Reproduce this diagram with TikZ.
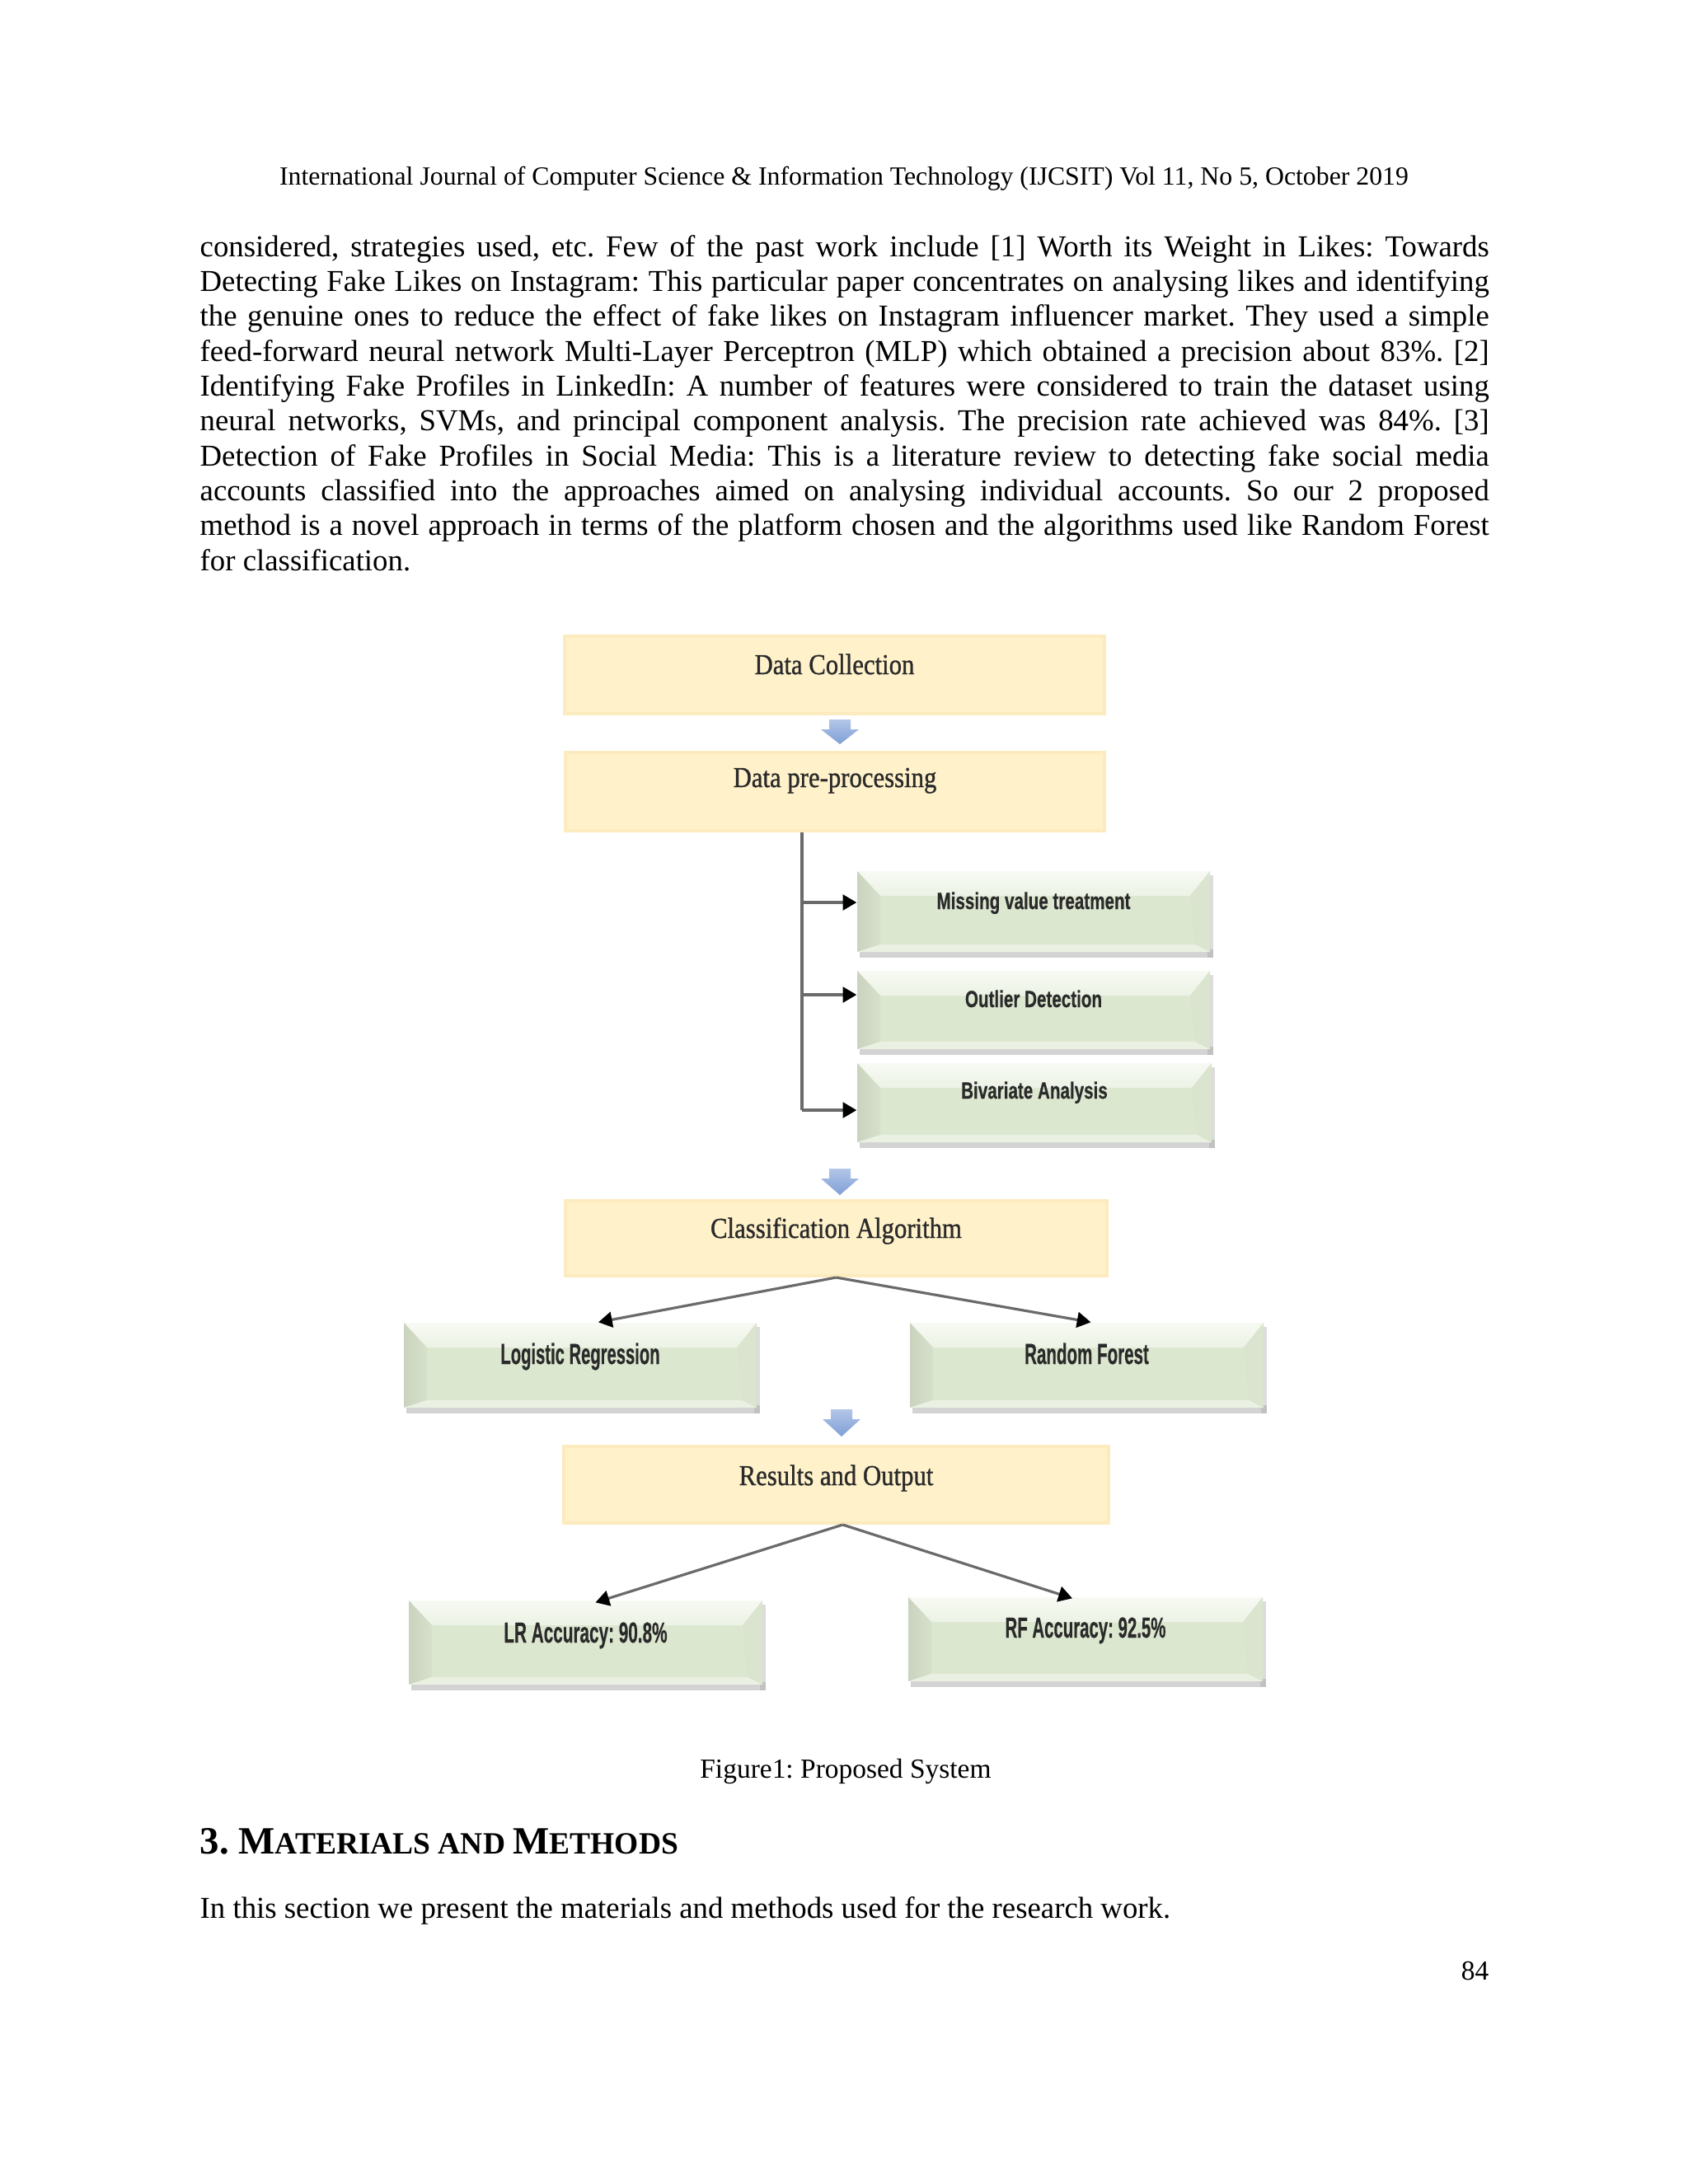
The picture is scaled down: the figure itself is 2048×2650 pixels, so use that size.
\documentclass[tikz,border=0pt]{standalone}
\usepackage{fontspec}
\setmainfont{Liberation Serif}
\newfontfamily\gsans{Liberation Sans}[FakeBold=0.6]
\newfontfamily\yserif{Liberation Serif}[FakeBold=1.0]
\usetikzlibrary{arrows.meta,fit,calc}
\frenchspacing
\definecolor{ylfill}{HTML}{FFF1CA}
\definecolor{yledge}{HTML}{FBEBBE}
\definecolor{gface}{HTML}{DCE7D0}
\definecolor{gtop}{HTML}{F7FAF3}
\definecolor{gleft}{HTML}{C9D3BE}
\definecolor{gright}{HTML}{DAE4CF}
\definecolor{gbot}{HTML}{EAF1E3}
\definecolor{gshadow}{HTML}{A8A8A8}
\definecolor{blarrow}{HTML}{7F9FD6}
\definecolor{bllight}{HTML}{B3C6E8}
\definecolor{linkc}{HTML}{6A6A6A}
\definecolor{txtc}{HTML}{2A2A2A}
\tikzset{
  ybox/.style={fill=ylfill, draw=yledge, line width=1.2pt, inner sep=0pt},
  gbox/.style={fill=gface, inner sep=0pt},
  ytext/.style={anchor=base, inner sep=0pt, text=txtc, font=\yserif\fontsize{10.5}{12}\selectfont},
  gtext/.style={anchor=base, inner sep=0pt, text=txtc, font=\gsans\bfseries\fontsize{8.5}{10}\selectfont},
  gtextl/.style={anchor=base, inner sep=0pt, text=txtc, font=\gsans\bfseries\fontsize{10.5}{12}\selectfont},
  link/.style={draw=linkc, line width=0.95pt},
  arr/.style={link, -{Triangle[length=5pt,width=5.6pt,color=black]}},
  ptext/.style={anchor=base west, inner sep=0pt, font=\fontsize{11}{12.65}\selectfont},
}
% bevelled green box: name, x1, y1, x2, y2
\newcommand\bevbox[5]{%
  \fill[gshadow, opacity=0.5] (#2+3,#5-3) rectangle (#4+4,#5+7);
  \fill[gshadow, opacity=0.4] (#4-3,#3+5) rectangle (#4+4,#5+7);
  \node[gbox, fit={(#2,#3) (#4,#5)}] (#1) {};
  \shade[top color=gtop, bottom color=gface!40!gtop] (#2,#3) -- (#4,#3) -- (#4-24,#3+30) -- (#2+28,#3+30) -- cycle;
  \shade[left color=gleft, right color=gface!70!gleft] (#2,#3) -- (#2+28,#3+30) -- (#2+28,#5-9) -- (#2,#5) -- cycle;
  \fill[gright] (#4,#3) -- (#4,#5) -- (#4-18,#5-9) -- (#4-24,#3+30) -- cycle;
  \fill[gbot] (#2,#5) -- (#4,#5) -- (#4-18,#5-9) -- (#2+28,#5-9) -- cycle;
}
% blue block arrow: name, cx, ytop, ybot
\newcommand\blarr[4]{%
  \coordinate (#1) at (#2,#3);
  \shade[top color=bllight, bottom color=blarrow]
    (#2-13,#3) -- (#2+13,#3) -- (#2+13,#3+12) -- (#2+23,#3+12) -- (#2,#4)
    -- (#2-23,#3+12) -- (#2-13,#3+12) -- cycle;
}
\begin{document}
\begin{tikzpicture}[x=0.29883pt, y=-0.29883pt]
\useasboundingbox[fill=white] (0,0) rectangle (2048,2650);

% header
\node[anchor=base, inner sep=0pt, font=\fontsize{9.5}{11}\selectfont] (hdr) at (1024,224)
  {International Journal of Computer Science \& Information Technology (IJCSIT) Vol 11, No 5, October 2019};

% paragraph
\node[ptext] (p1) at (242,311.0) {\makebox[467.4pt][s]{considered, strategies used, etc. Few of the past work include [1] Worth its Weight in Likes: Towards}};
\node[ptext] (p2) at (242,353.3) {\makebox[467.4pt][s]{Detecting Fake Likes on Instagram: This particular paper concentrates on analysing likes and identifying}};
\node[ptext] (p3) at (242,395.7) {\makebox[467.4pt][s]{the genuine ones to reduce the effect of fake likes on Instagram influencer market. They used a simple}};
\node[ptext] (p4) at (242,438.0) {\makebox[467.4pt][s]{feed-forward neural network Multi-Layer Perceptron (MLP) which obtained a precision about 83\%. [2]}};
\node[ptext] (p5) at (242,480.3) {\makebox[467.4pt][s]{Identifying Fake Profiles in LinkedIn: A number of features were considered to train the dataset using}};
\node[ptext] (p6) at (242,522.7) {\makebox[467.4pt][s]{neural networks, SVMs, and principal component analysis. The precision rate achieved was 84\%. [3]}};
\node[ptext] (p7) at (242,565.0) {\makebox[467.4pt][s]{Detection of Fake Profiles in Social Media: This is a literature review to detecting fake social media}};
\node[ptext] (p8) at (242,607.3) {\makebox[467.4pt][s]{accounts classified into the approaches aimed on analysing individual accounts. So our 2 proposed}};
\node[ptext] (p9) at (242,649.7) {\makebox[467.4pt][s]{method is a novel approach in terms of the platform chosen and the algorithms used like Random Forest}};
\node[ptext] (p10) at (242,692.0) {for classification.};

% yellow boxes
\node[ybox, fit={(685,772) (1340,866)}] (dc) {};
\node[ybox, fit={(686,913) (1340,1008)}] (dp) {};
\node[ybox, fit={(686,1457) (1343,1548)}] (ca) {};
\node[ybox, fit={(684,1755) (1345,1848)}] (ro) {};
\node[ytext] (dcT) at ($(dc.center |- 0,818)$) {\scalebox{0.875}[1]{Data Collection}};
\node[ytext] (dpT) at ($(dp.center |- 0,955)$) {\scalebox{0.875}[1]{Data pre-processing}};
\node[ytext] (caT) at ($(ca.center |- 0,1502)$) {\scalebox{0.875}[1]{Classification Algorithm}};
\node[ytext] (roT) at ($(ro.center |- 0,1802)$) {\scalebox{0.875}[1]{Results and Output}};

% blue block arrows
\blarr{b1}{1019}{873}{903}
\blarr{b2}{1019}{1418}{1450}
\blarr{b3}{1021}{1710}{1743}

% green bevel boxes
\bevbox{mv}{1040}{1057}{1468}{1155}
\bevbox{od}{1040}{1178}{1468}{1273}
\bevbox{ba}{1040}{1290}{1470}{1386}
\bevbox{lr}{490}{1605}{918}{1708}
\bevbox{rf}{1104}{1605}{1533}{1708}
\bevbox{lra}{496}{1942}{925}{2044}
\bevbox{rfa}{1102}{1938}{1532}{2040}

\node[gtext] (mvT) at ($(mv.center |- 0,1103)$) {\scalebox{0.725}[1]{Missing value treatment}};
\node[gtext] (odT) at ($(od.center |- 0,1222)$) {\scalebox{0.725}[1]{Outlier Detection}};
\node[gtext] (baT) at ($(ba.center |- 0,1333)$) {\scalebox{0.725}[1]{Bivariate Analysis}};
\node[gtextl] (lrT) at ($(lr.center |- 0,1655)$) {\scalebox{0.575}[1]{Logistic Regression}};
\node[gtextl] (rfT) at ($(rf.center |- 0,1655)$) {\scalebox{0.585}[1]{Random Forest}};
\node[gtextl] (lraT) at ($(lra.center |- 0,1993)$) {\scalebox{0.59}[1]{LR Accuracy: 90.8\%}};
\node[gtextl] (rfaT) at ($(rfa.center |- 0,1987)$) {\scalebox{0.58}[1]{RF Accuracy: 92.5\%}};

% connectors
\coordinate (j1) at (973,1095);
\coordinate (j2) at (973,1207);
\coordinate (j3) at (973,1347);
\draw[link] (dp.south -| j3) -- (j3);
\draw[arr] (j1) -- (j1 -| mv.west);
\draw[arr] (j2) -- (j2 -| od.west);
\draw[arr] (j3) -- (j3 -| ba.west);
\draw[arr] (ca.south) -- ($(lr.north)+(22,0)$);
\draw[arr] (ca.south) -- ($(rf.north)+(5,0)$);
\draw[arr] ($(ro.south)+(8,0)$) -- ($(lra.north)+(12,3)$);
\draw[arr] ($(ro.south)+(8,0)$) -- ($(rfa.north)+(-16,2)$);

% caption and following text
\node[anchor=base, inner sep=0pt, font=\fontsize{10}{12}\selectfont] (cap) at (1026,2157) {Figure1: Proposed System};
\node[anchor=base west, inner sep=0pt, font=\bfseries] (sec) at (242,2249)
  {\fontsize{14}{16}\selectfont 3. M\fontsize{11.2}{13}\selectfont ATERIALS AND \fontsize{14}{16}\selectfont M\fontsize{11.2}{13}\selectfont ETHODS};
\node[ptext] (p11) at (242,2327) {In this section we present the materials and methods used for the research work.};
\node[anchor=base east, inner sep=0pt, font=\fontsize{10}{12}\selectfont] (pg) at (1807,2402) {84};
\end{tikzpicture}
\end{document}
